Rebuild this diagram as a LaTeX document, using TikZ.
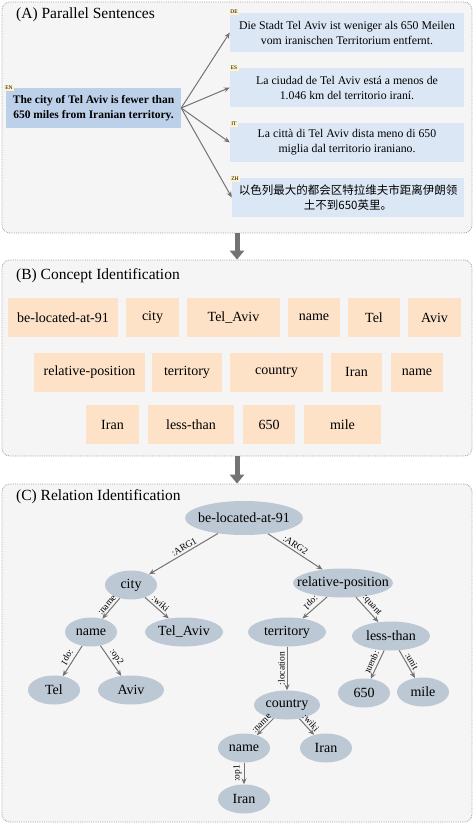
\documentclass[tikz,border=0pt]{standalone}
\usepackage{fontspec}
\setmainfont{Liberation Serif}
\newfontfamily\zhfont{Noto Sans CJK SC}
\usetikzlibrary{arrows.meta,shapes.geometric}

\definecolor{panelbg}{HTML}{F5F5F5}
\definecolor{panelline}{HTML}{A0A0A0}
\definecolor{enblue}{HTML}{BDD0EA}
\definecolor{sentblue}{HTML}{DCE7F6}
\definecolor{tagyellow}{HTML}{FFF2CC}
\definecolor{peach}{HTML}{FDE2C8}
\definecolor{amrgray}{HTML}{BCC8D3}
\definecolor{linegray}{HTML}{737373}

\newcommand{\zw}[1]{\makebox[0pt]{#1}}

\tikzset{
  panel/.style={fill=panelbg, draw=panelline, densely dotted, line width=0.8pt, rounded corners=8pt, inner sep=0pt},
  title/.style={anchor=west, inner sep=0pt, font=\fontsize{15.5}{18}\selectfont},
  sent/.style={fill=sentblue, minimum width=234, minimum height=39, align=center, inner sep=0pt, font=\fontsize{11.8}{15}\selectfont},
  tag/.style={fill=tagyellow, inner sep=1.3pt, font=\fontsize{5.5}{6}\selectfont},
  concept/.style={fill=peach, minimum height=39, inner sep=0pt, font=\fontsize{14}{16}\selectfont},
  amr/.style={ellipse, fill=amrgray, inner sep=0pt, minimum height=29, minimum width=52, font=\fontsize{14}{16}\selectfont},
  rel/.style={draw=linegray, line width=1pt, -{Stealth[length=6pt,width=5pt]}},
  lbl/.style={inner sep=1.8pt, font=\fontsize{9.5}{10}\selectfont},
  bigarrow/.style={draw=linegray, line width=5pt, -{Triangle[width=14pt,length=9pt]}}
}

\begin{document}
\begin{tikzpicture}[x=1pt,y=-1pt]
  \useasboundingbox (0,0) rectangle (474,824);

  % panels
  \node[panel, minimum width=470, minimum height=231] (pa) at (237,117.5) {};
  \node[panel, minimum width=470, minimum height=196] (pb) at (237,358) {};
  \node[panel, minimum width=470, minimum height=338] (pc) at (237,653) {};
  \draw[bigarrow] (pa.south) -- (pb.north);
  \draw[bigarrow] (pb.south) -- (pc.north);

  % (A) parallel sentences
  \node[title] (ta) at (16,15) {(A) Parallel Sentences};
  \node[sent, fill=enblue, minimum width=175, minimum height=40, font=\fontsize{11.5}{15}\selectfont\bfseries] (en) at (93.5,108)
    {The city of Tel Aviv is fewer than\\650 miles from Iranian territory.};
  \node[sent] (de) at (347,32.5) {Die Stadt Tel Aviv ist weniger als 650 Meilen\\vom iranischen Territorium entfernt.};
  \node[sent] (es) at (347,87.5) {La ciudad de Tel Aviv está a menos de\\1.046 km del territorio iraní.};
  \node[sent] (it) at (347,142.5) {La città di Tel Aviv dista meno di 650\\miglia dal territorio iraniano.};
  \node[sent, minimum width=232, font=\fontsize{11.5}{15}\zhfont] (zh) at (348,197.5) {以色列最大的都会区特拉维夫市距离伊朗领\\土不到650英里。};
  \node[tag] (enTag) at (9,88) {EN};
  \node[tag] (deTag) at (234,12) {DE};
  \node[tag] (esTag) at (234,68) {ES};
  \node[tag] (itTag) at (234,124) {IT};
  \node[tag] (zhTag) at (235,179) {ZH};
  \draw[rel] (en.east) -- (de.west);
  \draw[rel] (en.east) -- (es.west);
  \draw[rel] (en.east) -- (it.west);
  \draw[rel] (en.east) -- (zh.west);

  % (B) concept identification
  \node[title] (tb) at (16,276) {(B) Concept Identification};
  \node[concept, minimum width=110] (c1) at (63,317.5) {be-located-at-91};
  \node[concept, minimum width=53] (c2) at (152.5,317.5) {city};
  \node[concept, minimum width=93] (c3) at (233.5,317.5) {Tel\_Aviv};
  \node[concept, minimum width=52] (c4) at (314,317.5) {name};
  \node[concept, minimum width=52] (c5) at (374,317.5) {Tel};
  \node[concept, minimum width=53] (c6) at (434.5,317.5) {Aviv};
  \node[concept, minimum width=111] (c7) at (89.5,372) {relative-position};
  \node[concept, minimum width=70] (c8) at (187,372) {territory};
  \node[concept, minimum width=93] (c9) at (276.5,372) {country};
  \node[concept, minimum width=51] (c10) at (356.5,372) {Iran};
  \node[concept, minimum width=52] (c11) at (417,372) {name};
  \node[concept, minimum width=53] (c12) at (112.5,424.5) {Iran};
  \node[concept, minimum width=86] (c13) at (191,424.5) {less-than};
  \node[concept, minimum width=52] (c14) at (269,424.5) {650};
  \node[concept, minimum width=77] (c15) at (342.5,424.5) {mile};

  % (C) relation identification
  \node[title] (tc) at (16,497) {(C) Relation Identification};
  \node[amr, minimum width=118, minimum height=34] (belocated) at (244,518) {\zw{be-located-at-91}};
  \node[amr] (city) at (131,585) {city};
  \node[amr] (name1) at (91,632) {name};
  \node[amr, minimum width=78] (telaviv) at (184,632) {Tel\_Aviv};
  \node[amr, minimum width=100] (relpos) at (343,583) {\zw{relative-position}};
  \node[amr, minimum width=78] (territory) at (287,632) {territory};
  \node[amr, minimum width=78] (lessthan) at (391,636) {less-than};
  \node[amr] (tel) at (54,690) {Tel};
  \node[amr, minimum width=66] (aviv) at (131,690) {Aviv};
  \node[amr, minimum width=66] (country) at (287,705) {country};
  \node[amr] (q650) at (364,693) {650};
  \node[amr] (mile) at (423,692) {mile};
  \node[amr] (name2) at (244,748) {name};
  \node[amr] (iranwiki) at (326,748) {Iran};
  \node[amr] (iranop) at (244,799) {Iran};

  \draw[rel] (belocated) -- node[lbl, sloped, above, pos=0.45] {:ARG1} (city);
  \draw[rel] (belocated) -- node[lbl, sloped, above, pos=0.45] {:ARG2} (relpos);
  \draw[rel] (city) -- node[lbl, sloped, above] {:name} (name1);
  \draw[rel] (city) -- node[lbl, sloped, above] {:wiki} (telaviv);
  \draw[rel] (name1) -- node[lbl, sloped, allow upside down, below] {:op1} (tel);
  \draw[rel] (name1) -- node[lbl, sloped, above] {:op2} (aviv);
  \draw[rel] (relpos) -- node[lbl, sloped, allow upside down, below] {:op1} (territory);
  \draw[rel] (relpos) -- node[lbl, sloped, above] {:quant} (lessthan);
  \draw[rel] (territory) -- node[lbl, rotate=90, anchor=south] {:location} (country);
  \draw[rel] (lessthan) -- node[lbl, sloped, allow upside down, below] {:quant} (q650);
  \draw[rel] (lessthan) -- node[lbl, sloped, above] {:unit} (mile);
  \draw[rel] (country) -- node[lbl, sloped, above] {:name} (name2);
  \draw[rel] (country) -- node[lbl, sloped, above] {:wiki} (iranwiki);
  \draw[rel] (name2) -- node[lbl, rotate=90, anchor=south] {:op1} (iranop);
\end{tikzpicture}
\end{document}
